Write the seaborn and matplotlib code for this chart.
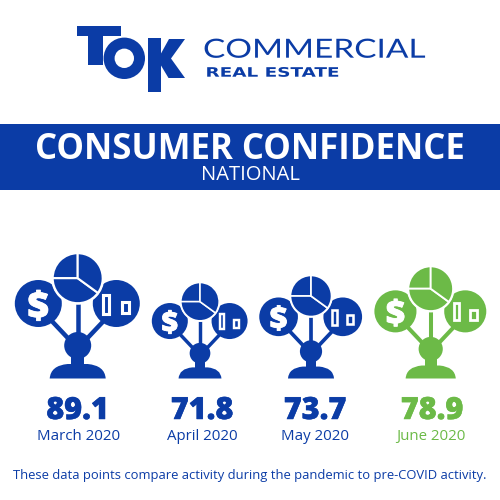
import matplotlib
matplotlib.use('Agg')
import matplotlib.pyplot as plt
import matplotlib.patheffects as pe
import pandas as pd
import seaborn as sns
from matplotlib.patches import Circle, PathPatch, Polygon, Rectangle, Wedge
from matplotlib.path import Path
from matplotlib.transforms import Affine2D

months = ['March 2020', 'April 2020', 'May 2020', 'June 2020']
values = [89.1, 71.8, 73.7, 78.9]

BLUE = '#0B3CA6'
GREEN = '#6CBA47'
WHITE = '#FFFFFF'

month_colors = [BLUE, BLUE, BLUE, GREEN]
icon_x = [77.7, 200, 311, 430.7]
icon_w = [124, 95, 102, 111]
value_x = [77.5, 202, 315, 432]
label_x = [79, 202, 315, 431]
BASE_Y = 378.5


class Stretch(pe.AbstractPathEffect):
    # logo type is much wider than anything installed
    def __init__(self, sx):
        super().__init__()
        self.sx = sx

    def draw_path(self, renderer, gc, tpath, affine, rgbFace=None):
        renderer.draw_path(gc, tpath, Affine2D().scale(self.sx, 1) + affine, rgbFace)


def draw_logo(ax):
    ax.add_patch(Rectangle((77.3, 25.7), 43.7, 10, color=BLUE, lw=0))
    ax.add_patch(Rectangle((87.7, 25.7), 15, 39.5, color=BLUE, lw=0))
    ax.add_patch(Circle((124.3, 58.3), 20.7, color=BLUE, lw=0))
    ax.add_patch(Circle((124.3, 58.3), 9.7, color=WHITE, lw=0))
    ax.add_patch(Rectangle((148.3, 38.3), 12.4, 54, color=BLUE, lw=0))
    ax.add_patch(Polygon([(160.7, 54), (169, 39), (185, 39), (171, 58.5), (185, 78), (168.5, 78),
                          (160.7, 65)], closed=True, color=BLUE, lw=0))
    ax.text(203, 57.7, 'COMMERCIAL', color=BLUE, fontsize=19, family='Lato',
            ha='left', va='baseline', path_effects=[Stretch(1.265)])
    ax.text(205.5, 76.7, 'REAL ESTATE', color=BLUE, fontsize=9.4, family='DejaVu Sans',
            fontweight='bold', ha='left', va='baseline', path_effects=[Stretch(1.41)])


def draw_icon(ax, cx, width, color):
    s = width / 124

    def px(dx, dy):
        return cx + dx * s, BASE_Y - dy * s

    lw = 4.5 * s * 0.72
    for end in [(-33, 65), (0, 90), (33, 65)]:
        ax.plot(*zip(px(0, 30), px(*end)), color=color, lw=lw, solid_capstyle='butt', zorder=2)

    # side circles
    for dx in (-39.4, 38.6):
        ax.add_patch(Circle(px(dx, 75), 23.5 * s, color=color, lw=0, zorder=2))

    # pie on top, white ring cuts it out of the side circles
    ax.add_patch(Circle(px(0, 100.3), 26.5 * s, color=WHITE, lw=0, zorder=3))
    for t1, t2 in [(-180, -90), (36, 180), (-90, 36)]:
        ax.add_patch(Wedge(px(0, 100.3), 25 * s, t1, t2, facecolor=color, edgecolor=WHITE,
                           lw=1.5 * s, zorder=4))

    # dollar sign
    ax.text(*px(-39.4, 75), '$', color=WHITE, fontsize=27 * s, family='Open Sans', fontweight=800,
            ha='center', va='center_baseline', zorder=5,
            path_effects=[pe.withStroke(linewidth=0.6, foreground=WHITE)])

    # small bars
    for x0, y0, w, h in [(25.5, 64.8, 6, 19), (43.8, 65.8, 7.7, 11)]:
        ax.add_patch(Rectangle(px(x0, y0), w * s, -h * s, facecolor=color, edgecolor=WHITE,
                               lw=2.8 * s * 0.72 + 0.2, zorder=5))

    # shoulders and neck
    xy = [px(-28, 0), px(-27, 13), px(-10, 14.5), px(10, 14.5), px(27, 13), px(28, 0), px(-28, 0)]
    codes = [Path.MOVETO, Path.CURVE3, Path.CURVE3, Path.LINETO, Path.CURVE3, Path.CURVE3, Path.CLOSEPOLY]
    ax.add_patch(PathPatch(Path(xy, codes), facecolor=color, lw=0, zorder=3))
    ax.add_patch(Rectangle(px(-6.5, 8), 13 * s, -18 * s, color=color, lw=0, zorder=3))


sns.set_theme(style='white')
plt.rcParams['font.family'] = ['Open Sans', 'DejaVu Sans']

fig = plt.figure(figsize=(5, 5), dpi=100, facecolor=WHITE)
ax = fig.add_axes([0, 0, 1, 1])
ax.set_xlim(0, 500)
ax.set_ylim(500, 0)
ax.axis('off')

draw_logo(ax)

# banner
ax.add_patch(Rectangle((0, 124.3), 500, 65.7, color=BLUE, lw=0))
ax.text(250, 159, 'CONSUMER CONFIDENCE', color=WHITE, fontsize=25, fontweight='bold',
        ha='center', va='baseline')
ax.text(250, 180.5, 'NATIONAL', color=WHITE, fontsize=14.5, ha='center', va='baseline')

for x, w, color in zip(icon_x, icon_w, month_colors):
    draw_icon(ax, x, w, color)

# heads, one per month
heads = pd.DataFrame({
    'x': icon_x,
    'y': [BASE_Y - 33 * w / 124 for w in icon_w],
    'month': months,
})
head_sizes = {m: (2 * 13.5 * w / 124 * 0.72) ** 2 for m, w in zip(months, icon_w)}
sns.scatterplot(data=heads, x='x', y='y', hue='month', palette=dict(zip(months, month_colors)),
                size='month', sizes=head_sizes, linewidth=0, legend=False, zorder=4, ax=ax)
ax.set_xlim(0, 500)
ax.set_ylim(500, 0)

for vx, lx, v, m, color in zip(value_x, label_x, values, months, month_colors):
    ax.text(vx, 419, f'{v:.1f}', color=color, fontsize=22, fontweight=800, ha='center', va='baseline',
            path_effects=[pe.withStroke(linewidth=0.35, foreground=color)])
    ax.text(lx, 440, m, color=color, fontsize=10.8, ha='center', va='baseline')

ax.text(250, 479, 'These data points compare activity during the pandemic to pre-COVID activity.',
        color=BLUE, fontsize=9.4, ha='center', va='baseline')

fig.savefig('out.png', dpi=100)
